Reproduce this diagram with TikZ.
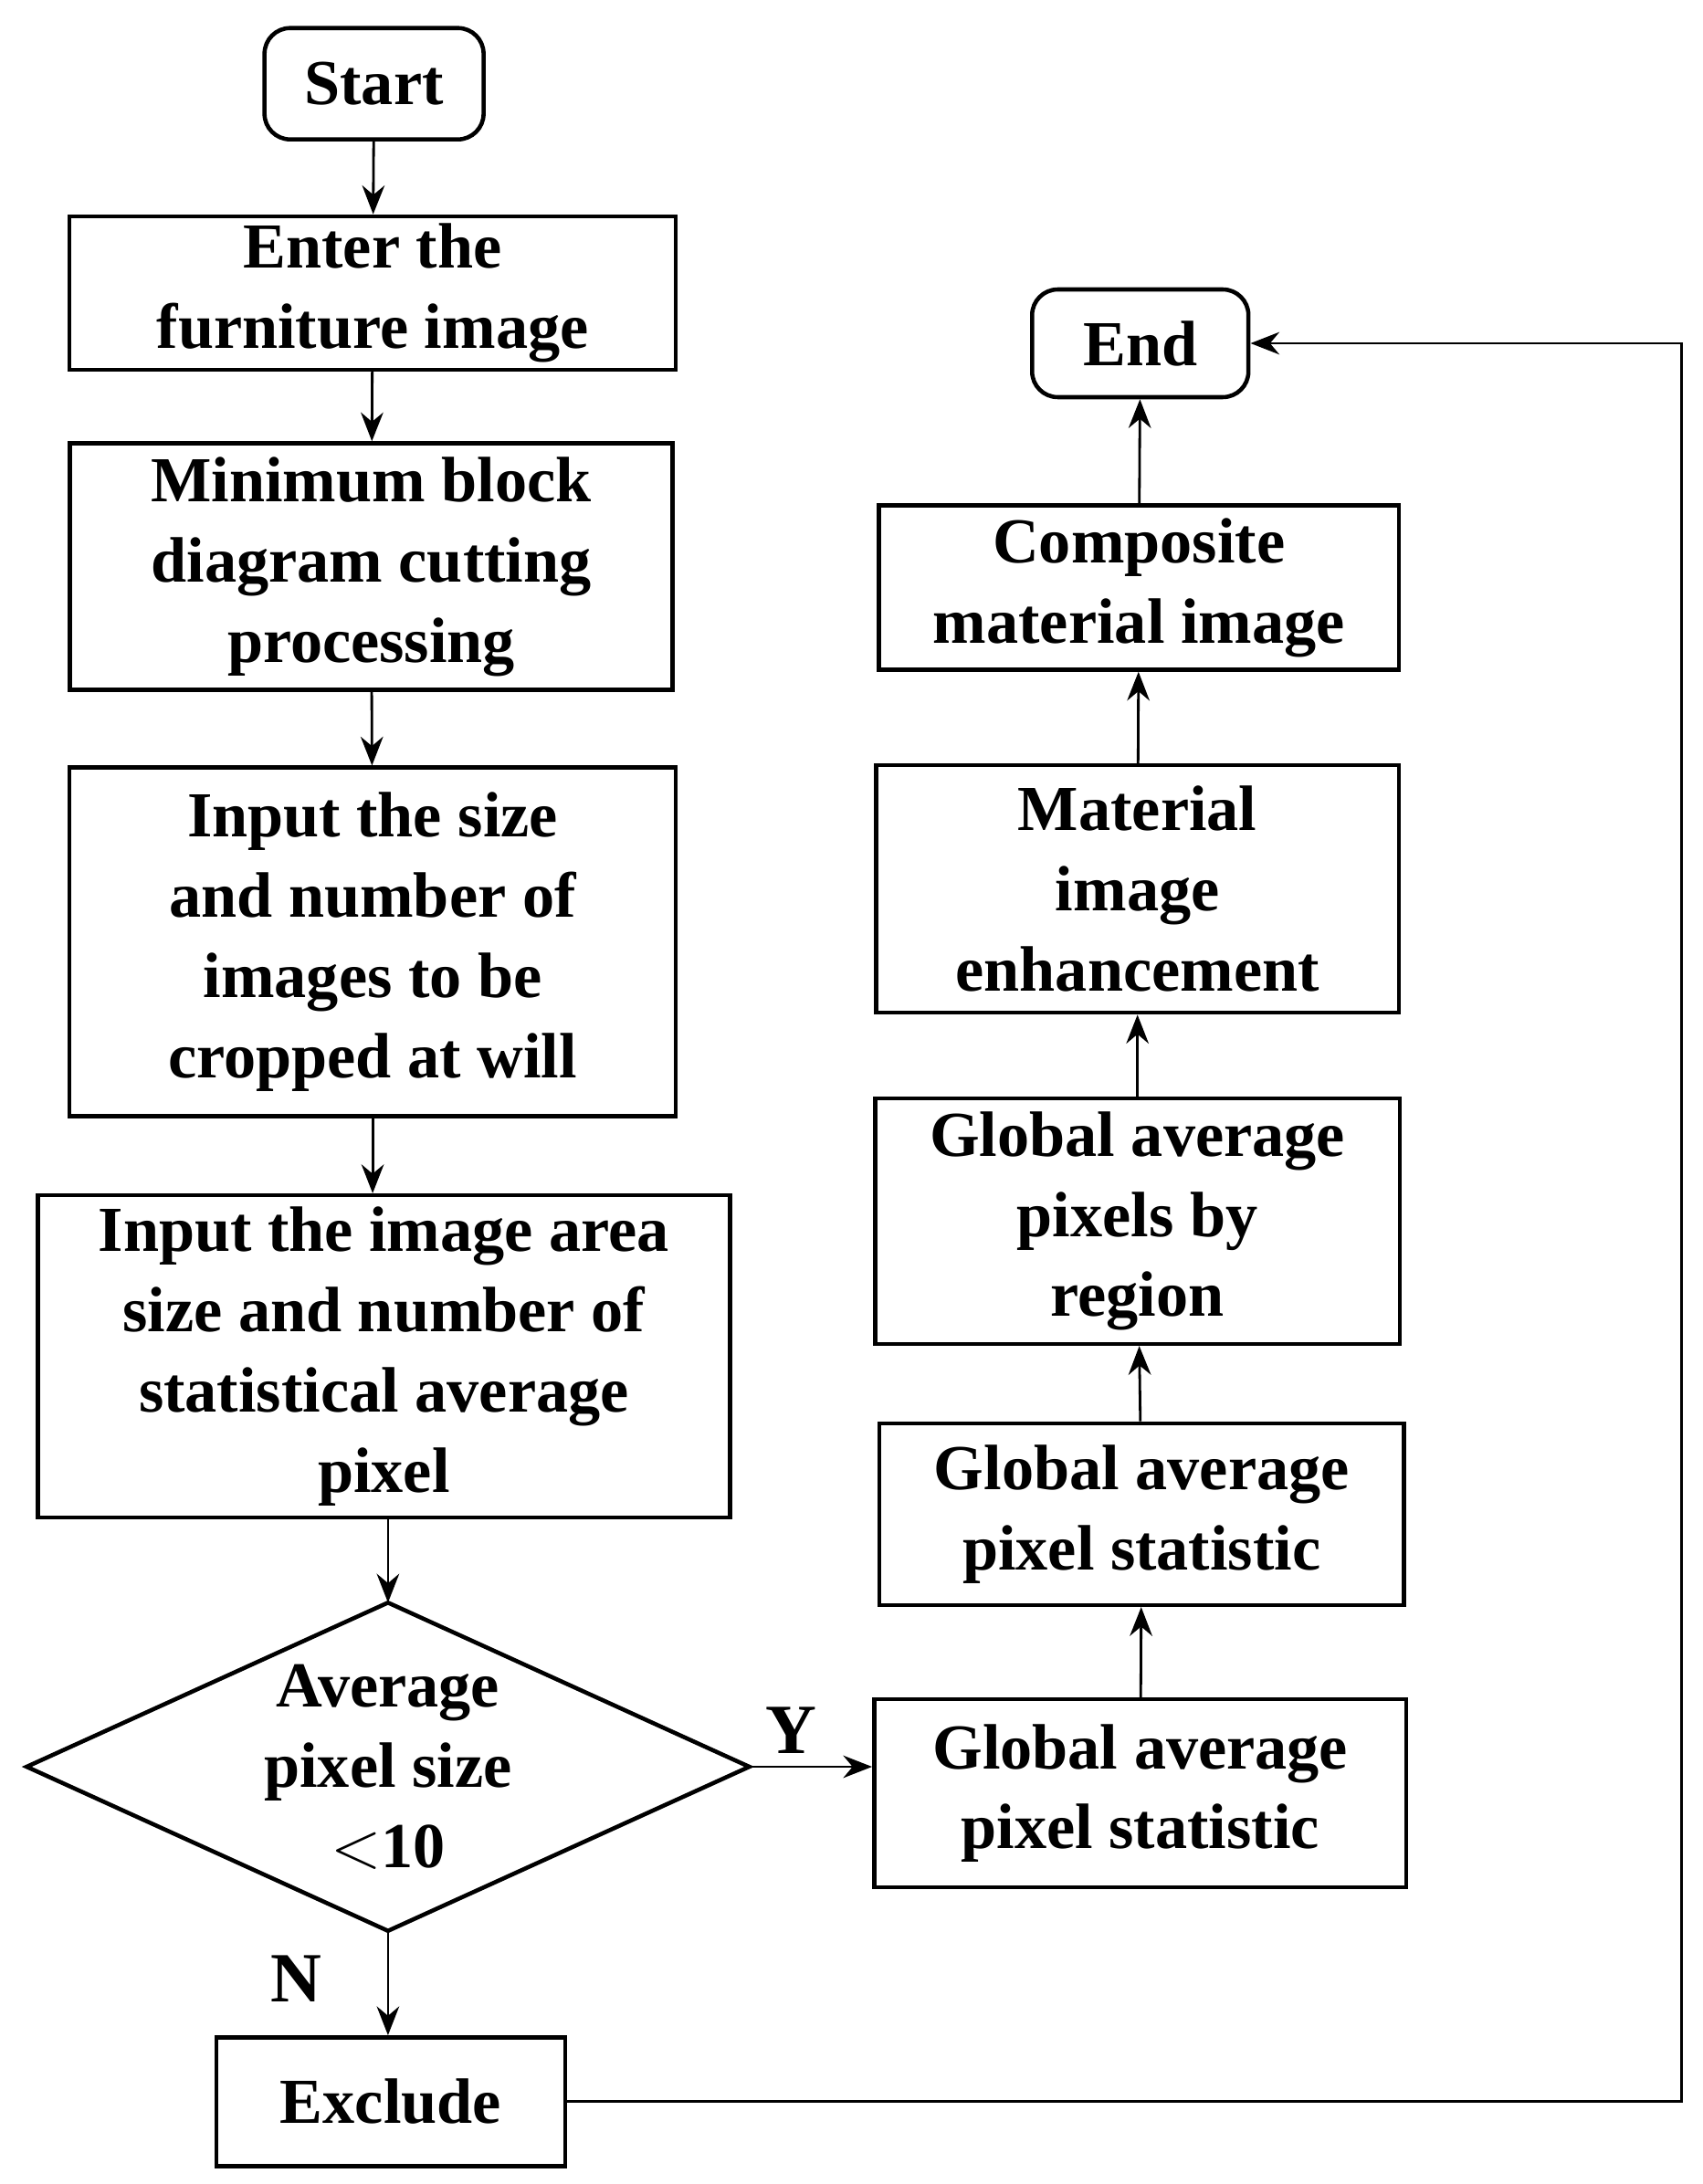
\documentclass[tikz,border=0pt]{standalone}
\usepackage{fontspec}
\setmainfont{Liberation Serif}
\usetikzlibrary{arrows.meta}

\begin{document}
\begin{tikzpicture}[x=0.01529cm,y=-0.01529cm,
    box/.style={draw, line width=1.3pt, inner sep=0pt, align=center, font=\fontsize{20}{25}\selectfont\bfseries},
    term/.style={box, rounded corners=8pt},
    link/.style={-{Stealth[length=9pt,width=7pt]}, line width=0.8pt}]

    \useasboundingbox (0,0) rectangle (1220,1565);

    % Left column
    \node[term, minimum width=2.4cm, minimum height=1.22cm] (start) at (268,60) {Start};
    \node[box, minimum width=6.64cm, minimum height=1.68cm] (enter) at (267,210) {Enter the\\furniture image};
    \node[box, minimum width=6.6cm, minimum height=2.7cm] (cut) at (266,406) {Minimum block\\diagram cutting\\processing};
    \node[box, minimum width=6.64cm, minimum height=3.82cm] (crop) at (267,675) {Input the size\\and number of\\images to be\\cropped at will};
    \node[box, minimum width=7.58cm, minimum height=3.53cm] (area) at (275,972) {Input the image area\\size and number of\\statistical average\\pixel};
    \node[box, draw=none, minimum width=7.87cm, minimum height=3.55cm] (check) at (278,1266) {Average\\pixel size\\$<$10};
    \draw[line width=1.3pt] (check.north) -- (check.east) -- (check.south) -- (check.west) -- cycle;
    \node[box, minimum width=3.82cm, minimum height=1.41cm] (exclude) at (280,1506) {Exclude};

    % Right column
    \node[box, minimum width=5.83cm, minimum height=2.06cm] (stat1) at (817,1285) {Global average\\pixel statistic};
    \node[box, minimum width=5.75cm, minimum height=1.99cm] (stat2) at (818,1085) {Global average\\pixel statistic};
    \node[box, minimum width=5.75cm, minimum height=2.69cm] (region) at (815,875) {Global average\\pixels by\\region};
    \node[box, minimum width=5.73cm, minimum height=2.71cm] (enhance) at (815,637) {Material\\image\\enhancement};
    \node[box, minimum width=5.7cm, minimum height=1.8cm] (compose) at (816,421) {Composite\\material image};
    \node[term, minimum width=2.37cm, minimum height=1.18cm] (end) at (817,246) {End};

    % Connectors
    \draw[link] (start) -- (enter);
    \draw[link] (enter) -- (cut);
    \draw[link] (cut) -- (crop);
    \draw[link] (crop) -- (crop.south |- area.north);
    \draw[link] (area.south -| check.north) -- (check.north);
    \draw[link] (check.south) -- (check.south |- exclude.north);
    \draw[link] (check.east) -- (stat1.west |- check.east);
    \draw[link] (stat1) -- (stat2);
    \draw[link] (stat2) -- (region);
    \draw[link] (region) -- (enhance);
    \draw[link] (enhance) -- (compose);
    \draw[link] (compose) -- (end);
    \coordinate (turn) at (1205,1506);
    \draw[link] (exclude) -- (turn) |- (end);

    % Branch labels
    \node[font=\fontsize{22}{26}\selectfont\bfseries] (yes) at (567,1240) {Y};
    \node[font=\fontsize{22}{26}\selectfont\bfseries] (no) at (212,1418) {N};

\end{tikzpicture}
\end{document}
